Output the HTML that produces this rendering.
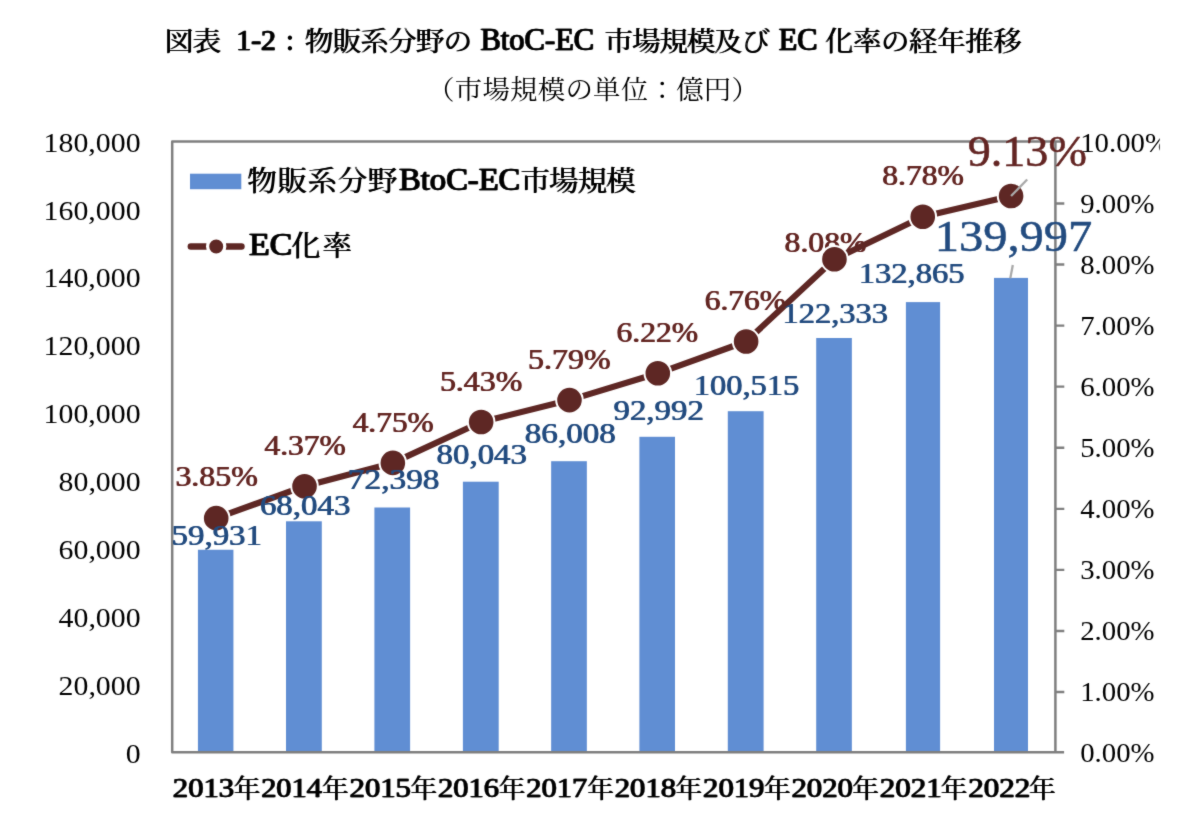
<!DOCTYPE html>
<html lang="ja">
<head>
<meta charset="utf-8">
<title>図表 1-2：物販系分野の BtoC-EC 市場規模及び EC 化率の経年推移</title>
<style>
html,body{margin:0;padding:0;background:#fff;}
body{width:1194px;height:830px;overflow:hidden;}
svg{display:block;}
svg text{font-family:'Liberation Serif', 'Noto Serif CJK SC', serif;white-space:pre;}
</style>
</head>
<body>
<svg width="1194" height="830" viewBox="0 0 1194 830">
<defs>
<filter id="fb" x="-5%" y="-30%" width="110%" height="160%"><feOffset dx="0.9" dy="0" result="o"/><feMerge><feMergeNode in="SourceGraphic"/><feMergeNode in="o"/></feMerge></filter>
<filter id="soft" filterUnits="userSpaceOnUse" x="0" y="0" width="1194" height="830" color-interpolation-filters="sRGB"><feConvolveMatrix order="3" kernelMatrix="0.02 0.075 0.02 0.075 0.62 0.075 0.02 0.075 0.02" edgeMode="duplicate" preserveAlpha="true"/></filter>
<clipPath id="clipR"><rect x="0" y="0" width="1159.7" height="830"/></clipPath></defs>
<rect x="0" y="0" width="1194" height="830" fill="#ffffff"/>
<g filter="url(#soft)">
<rect x="0" y="0" width="1194" height="830" fill="#ffffff"/>
<g clip-path="url(#clipR)">

<g><text transform="translate(164.23 50.60) scale(1.0450 1)" font-size="27.50" letter-spacing="-0.899" fill="#000" filter="url(#fb)">図表</text>
<text transform="translate(235.78 50.25) scale(1.0093 1)" font-size="29.47" fill="#000" stroke="#000" stroke-width="0.50" stroke-linejoin="round" filter="url(#fb)">1-2</text>
<text transform="translate(283.30 51.37) scale(0.9722 1)" font-size="25.71" font-weight="700" fill="#000">：</text>
<text transform="translate(304.15 50.60) scale(1.0450 1)" font-size="27.50" letter-spacing="-0.900" fill="#000" filter="url(#fb)">物販系分野の</text>
<text transform="translate(479.93 50.25) scale(0.9816 1)" font-size="31.15" fill="#000" stroke="#000" stroke-width="0.50" stroke-linejoin="round" filter="url(#fb)">BtoC-EC</text>
<text transform="translate(603.96 50.60) scale(1.0450 1)" font-size="27.50" letter-spacing="-1.249" fill="#000" filter="url(#fb)">市場規模及び</text>
<text transform="translate(778.33 50.25) scale(0.9621 1)" font-size="31.46" fill="#000" stroke="#000" stroke-width="0.50" stroke-linejoin="round" filter="url(#fb)">EC</text>
<text transform="translate(824.46 50.62) scale(1.0450 1)" font-size="27.20" letter-spacing="-0.336" fill="#000" filter="url(#fb)">化率の経年推移</text></g>
<g><text transform="translate(427.11 98.63) scale(1.0450 1)" font-size="26.34" letter-spacing="0.151" fill="#000">（市場規模の単位：億円）</text></g>
<g fill="#608ED3">
<rect x="197.93" y="549.76" width="35.49" height="202.59"/>
<rect x="286.00" y="521.30" width="35.80" height="231.05"/>
<rect x="374.40" y="507.50" width="35.70" height="244.85"/>
<rect x="462.90" y="481.70" width="35.80" height="270.65"/>
<rect x="551.15" y="461.20" width="35.70" height="291.15"/>
<rect x="639.40" y="436.80" width="35.60" height="315.55"/>
<rect x="727.80" y="411.20" width="35.80" height="341.15"/>
<rect x="816.20" y="338.00" width="35.65" height="414.35"/>
<rect x="905.90" y="302.10" width="34.20" height="450.25"/>
<rect x="994.00" y="277.90" width="34.00" height="474.45"/>
</g>
<g fill="none" stroke="#7f7f7f" stroke-width="2.5" stroke-linejoin="round">
<path d="M1064.1 141.55H172.20V752.35H1064.1"/>
<path d="M1055.40 141.55V752.35"/>
<path d="M1055.40 692.07H1064.3M1055.40 630.99H1064.3M1055.40 569.91H1064.3M1055.40 508.83H1064.3M1055.40 447.75H1064.3M1055.40 386.67H1064.3M1055.40 325.59H1064.3M1055.40 264.51H1064.3M1055.40 203.43H1064.3" stroke-width="2.4"/>
</g>
<g><text transform="translate(174.90 486.10) scale(1.1045 1)" font-size="28.90" fill="#632523" filter="url(#fb)">3.85%</text>
<text transform="translate(263.97 454.50) scale(1.0887 1)" font-size="28.90" fill="#632523" filter="url(#fb)">4.37%</text>
<text transform="translate(352.17 432.10) scale(1.0859 1)" font-size="28.90" fill="#632523" filter="url(#fb)">4.75%</text>
<text transform="translate(439.38 390.80) scale(1.1062 1)" font-size="28.90" fill="#632523" filter="url(#fb)">5.43%</text>
<text transform="translate(527.58 368.70) scale(1.1048 1)" font-size="28.90" fill="#632523" filter="url(#fb)">5.79%</text>
<text transform="translate(615.93 341.90) scale(1.0946 1)" font-size="28.90" fill="#632523" filter="url(#fb)">6.22%</text>
<text transform="translate(704.14 309.70) scale(1.0904 1)" font-size="28.90" fill="#632523" filter="url(#fb)">6.76%</text>
<text transform="translate(784.03 251.80) scale(1.0973 1)" font-size="28.90" fill="#632523" filter="url(#fb)">8.08%</text>
<text transform="translate(881.73 185.30) scale(1.0946 1)" font-size="28.90" fill="#632523" filter="url(#fb)">8.78%</text></g>
<polyline points="216.20,518.15 304.52,486.20 392.84,462.90 481.16,422.00 569.48,400.10 657.80,373.30 746.12,341.50 834.44,259.20 922.76,216.70 1011.08,196.00" fill="none" stroke="#5E2724" stroke-width="6.2" stroke-linejoin="round" stroke-linecap="round"/>
<g fill="#5E2724" stroke="#ffffff" stroke-width="2">
<circle cx="216.20" cy="518.15" r="13.3"/>
<circle cx="304.52" cy="486.20" r="13.3"/>
<circle cx="392.84" cy="462.90" r="13.3"/>
<circle cx="481.16" cy="422.00" r="13.3"/>
<circle cx="569.48" cy="400.10" r="13.3"/>
<circle cx="657.80" cy="373.30" r="13.3"/>
<circle cx="746.12" cy="341.50" r="13.3"/>
<circle cx="834.44" cy="259.20" r="13.3"/>
<circle cx="922.76" cy="216.70" r="13.3"/>
<circle cx="1011.08" cy="196.00" r="13.3"/>
</g>
<g stroke="#A9A9A9" stroke-width="2.3" fill="none">
<path d="M1011.08 196.00L1027.2 179.5"/>
<path d="M1010.3 278.20L1012.8 265.0"/>
</g>
<g><text transform="translate(171.02 544.80) scale(1.1354 1)" font-size="29.00" fill="#224B7F" filter="url(#fb)">59,931</text>
<text transform="translate(259.38 515.30) scale(1.1365 1)" font-size="29.00" fill="#224B7F" filter="url(#fb)">68,043</text>
<text transform="translate(347.37 489.20) scale(1.1481 1)" font-size="29.00" fill="#224B7F" filter="url(#fb)">72,398</text>
<text transform="translate(436.09 463.50) scale(1.1326 1)" font-size="29.00" fill="#224B7F" filter="url(#fb)">80,043</text>
<text transform="translate(524.28 443.20) scale(1.1417 1)" font-size="29.00" fill="#224B7F" filter="url(#fb)">86,008</text>
<text transform="translate(613.01 419.60) scale(1.1330 1)" font-size="29.00" fill="#224B7F" filter="url(#fb)">92,992</text>
<text transform="translate(693.17 394.70) scale(1.1218 1)" font-size="29.00" fill="#224B7F" filter="url(#fb)">100,515</text>
<text transform="translate(782.08 323.20) scale(1.1185 1)" font-size="29.00" fill="#224B7F" filter="url(#fb)">122,333</text>
<text transform="translate(858.16 282.50) scale(1.1251 1)" font-size="29.00" fill="#224B7F" filter="url(#fb)">132,865</text>
<text transform="translate(934.71 251.15) scale(1.1091 1)" font-size="43.71" fill="#224B7F" stroke="#224B7F" stroke-width="0.50" stroke-linejoin="round">139,997</text>
<text transform="translate(967.67 166.35) scale(1.0272 1)" font-size="44.92" fill="#632523" stroke="#632523" stroke-width="0.50" stroke-linejoin="round">9.13%</text></g>
<rect x="190" y="173.7" width="51.3" height="15.5" fill="#608ED3"/>
<path d="M190.8 246.5H241.5" stroke="#5E2724" stroke-width="6.4" stroke-linecap="round" fill="none"/>
<circle cx="216.2" cy="246.5" r="8.6" fill="#5E2724" stroke="#ffffff" stroke-width="3.2"/>
<g><text transform="translate(246.71 190.93) scale(1.0450 1)" font-size="28.37" letter-spacing="0.489" fill="#000" filter="url(#fb)">物販系分野</text>
<text transform="translate(398.58 189.85) scale(1.0305 1)" font-size="31.62" fill="#000" stroke="#000" stroke-width="0.50" stroke-linejoin="round" filter="url(#fb)">BtoC-EC</text>
<text transform="translate(520.12 190.93) scale(1.0450 1)" font-size="28.37" letter-spacing="-1.119" fill="#000" filter="url(#fb)">市場規模</text>
<text transform="translate(248.55 255.25) scale(1.0601 1)" font-size="31.92" fill="#000" stroke="#000" stroke-width="0.50" stroke-linejoin="round" filter="url(#fb)">EC</text>
<text transform="translate(290.82 256.25) scale(1.0450 1)" font-size="28.15" letter-spacing="1.732" fill="#000" filter="url(#fb)">化率</text></g>
<g><text transform="translate(125.67 762.55) scale(1.1010 1)" font-size="27.10" fill="#000">0</text>
<text transform="translate(58.54 694.68) scale(1.1010 1)" font-size="27.10" fill="#000">20,000</text>
<text transform="translate(58.54 626.82) scale(1.1010 1)" font-size="27.10" fill="#000">40,000</text>
<text transform="translate(58.54 558.95) scale(1.1010 1)" font-size="27.10" fill="#000">60,000</text>
<text transform="translate(58.54 491.08) scale(1.1010 1)" font-size="27.10" fill="#000">80,000</text>
<text transform="translate(43.62 423.22) scale(1.1010 1)" font-size="27.10" fill="#000">100,000</text>
<text transform="translate(43.62 355.35) scale(1.1010 1)" font-size="27.10" fill="#000">120,000</text>
<text transform="translate(43.62 287.48) scale(1.1010 1)" font-size="27.10" fill="#000">140,000</text>
<text transform="translate(43.62 219.62) scale(1.1010 1)" font-size="27.10" fill="#000">160,000</text>
<text transform="translate(43.62 151.75) scale(1.1010 1)" font-size="27.10" fill="#000">180,000</text>
<text transform="translate(1080.20 762.45) scale(1.0630 1)" font-size="27.10" fill="#000">0.00%</text>
<text transform="translate(1080.20 701.37) scale(1.0630 1)" font-size="27.10" fill="#000">1.00%</text>
<text transform="translate(1080.20 640.29) scale(1.0630 1)" font-size="27.10" fill="#000">2.00%</text>
<text transform="translate(1080.20 579.21) scale(1.0630 1)" font-size="27.10" fill="#000">3.00%</text>
<text transform="translate(1080.20 518.13) scale(1.0630 1)" font-size="27.10" fill="#000">4.00%</text>
<text transform="translate(1080.20 457.05) scale(1.0630 1)" font-size="27.10" fill="#000">5.00%</text>
<text transform="translate(1080.20 395.97) scale(1.0630 1)" font-size="27.10" fill="#000">6.00%</text>
<text transform="translate(1080.20 334.89) scale(1.0630 1)" font-size="27.10" fill="#000">7.00%</text>
<text transform="translate(1080.20 273.81) scale(1.0630 1)" font-size="27.10" fill="#000">8.00%</text>
<text transform="translate(1080.20 212.73) scale(1.0630 1)" font-size="27.10" fill="#000">9.00%</text>
<text transform="translate(1080.20 151.65) scale(1.0630 1)" font-size="27.10" fill="#000">10.00%</text></g>
<g><text transform="translate(172.29 797.05) scale(1.1291 1)" font-size="27.20" fill="#000" stroke="#000" stroke-width="0.30" stroke-linejoin="round" filter="url(#fb)">2013</text>
<text transform="translate(233.18 797.68) scale(1.0068 1)" font-size="26.56" fill="#000" filter="url(#fb)">年</text>
<text transform="translate(260.68 797.05) scale(1.1176 1)" font-size="27.20" fill="#000" stroke="#000" stroke-width="0.30" stroke-linejoin="round" filter="url(#fb)">2014</text>
<text transform="translate(321.56 797.68) scale(1.0068 1)" font-size="26.56" fill="#000" filter="url(#fb)">年</text>
<text transform="translate(349.05 797.05) scale(1.1291 1)" font-size="27.20" fill="#000" stroke="#000" stroke-width="0.30" stroke-linejoin="round" filter="url(#fb)">2015</text>
<text transform="translate(409.94 797.68) scale(1.0068 1)" font-size="26.56" fill="#000" filter="url(#fb)">年</text>
<text transform="translate(437.44 797.05) scale(1.1233 1)" font-size="27.20" fill="#000" stroke="#000" stroke-width="0.30" stroke-linejoin="round" filter="url(#fb)">2016</text>
<text transform="translate(498.32 797.68) scale(1.0068 1)" font-size="26.56" fill="#000" filter="url(#fb)">年</text>
<text transform="translate(525.82 797.05) scale(1.1233 1)" font-size="27.20" fill="#000" stroke="#000" stroke-width="0.30" stroke-linejoin="round" filter="url(#fb)">2017</text>
<text transform="translate(586.70 797.68) scale(1.0068 1)" font-size="26.56" fill="#000" filter="url(#fb)">年</text>
<text transform="translate(614.19 797.05) scale(1.1291 1)" font-size="27.20" fill="#000" stroke="#000" stroke-width="0.30" stroke-linejoin="round" filter="url(#fb)">2018</text>
<text transform="translate(675.08 797.68) scale(1.0068 1)" font-size="26.56" fill="#000" filter="url(#fb)">年</text>
<text transform="translate(702.57 797.05) scale(1.1291 1)" font-size="27.20" fill="#000" stroke="#000" stroke-width="0.30" stroke-linejoin="round" filter="url(#fb)">2019</text>
<text transform="translate(763.46 797.68) scale(1.0068 1)" font-size="26.56" fill="#000" filter="url(#fb)">年</text>
<text transform="translate(790.95 797.05) scale(1.1121 1)" font-size="27.62" fill="#000" stroke="#000" stroke-width="0.30" stroke-linejoin="round" filter="url(#fb)">2020</text>
<text transform="translate(851.84 797.68) scale(1.0068 1)" font-size="26.56" fill="#000" filter="url(#fb)">年</text>
<text transform="translate(879.32 797.05) scale(1.1409 1)" font-size="27.20" fill="#000" stroke="#000" stroke-width="0.30" stroke-linejoin="round" filter="url(#fb)">2021</text>
<text transform="translate(940.22 797.68) scale(1.0068 1)" font-size="26.56" fill="#000" filter="url(#fb)">年</text>
<text transform="translate(967.70 797.05) scale(1.1238 1)" font-size="27.62" fill="#000" stroke="#000" stroke-width="0.30" stroke-linejoin="round" filter="url(#fb)">2022</text>
<text transform="translate(1028.60 797.68) scale(1.0068 1)" font-size="26.56" fill="#000" filter="url(#fb)">年</text></g>
</g>
</g>
</svg>
</body>
</html>
